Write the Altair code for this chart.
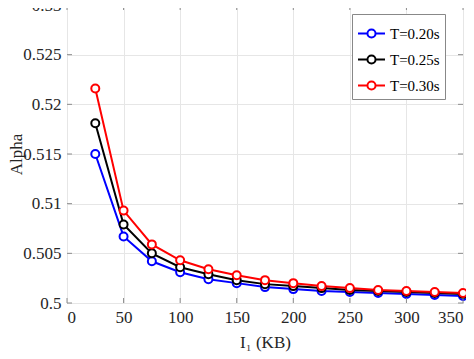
import altair as alt
import pandas as pd

x_vals = [25, 50, 75, 100, 125, 150, 175, 200, 225, 250, 275, 300, 325, 350]
t020 = [0.5150, 0.5067, 0.5042, 0.5031, 0.5024, 0.5020, 0.5016, 0.5014, 0.5012, 0.5011, 0.5010, 0.5009, 0.5008, 0.5007]
t025 = [0.5181, 0.5079, 0.5050, 0.5036, 0.5029, 0.5023, 0.5019, 0.5017, 0.5015, 0.5013, 0.5012, 0.5011, 0.5010, 0.5009]
t030 = [0.5216, 0.5093, 0.5059, 0.5043, 0.5034, 0.5028, 0.5023, 0.5020, 0.5017, 0.5015, 0.5013, 0.5012, 0.5011, 0.5010]
series_names = ["T=0.20s", "T=0.25s", "T=0.30s"]
series_colors = ["#0000ff", "#000000", "#ff0000"]
x_ticks = [0, 50, 100, 150, 200, 250, 300, 350]
y_ticks = [0.5, 0.505, 0.51, 0.515, 0.52, 0.525, 0.53]

rows = []
for name, vals in zip(series_names, [t020, t025, t030]):
    for xv, yv in zip(x_vals, vals):
        rows.append({"x": xv, "y": yv, "series": name})
df = pd.DataFrame(rows)
xt_df = pd.DataFrame({"x": x_ticks})
yt_df = pd.DataFrame({"y": y_ticks})

FONT = "Liberation Serif, Times New Roman, serif"
FRAME = "#8c8c8c"
W, H, TK = 396, 298, 5
legend_path = ("M-1,0H-0.3 M0.3,0H1 M-0.3,0A0.3,0.3 0 1,1 0.3,0A0.3,0.3 0 1,1 -0.3,0")

stroke_enc = alt.Stroke(
    "series:N",
    scale=alt.Scale(domain=series_names, range=series_colors),
    legend=alt.Legend(
        title=None,
        orient="none",
        legendX=285,
        legendY=9,
        symbolType=legend_path,
        symbolSize=729,
        symbolStrokeWidth=2,
        symbolFillColor="white",
        symbolOpacity=1,
        labelFont=FONT,
        labelFontSize=15,
        labelColor="black",
        fillColor="white",
        strokeColor="#888888",
        padding=5,
        rowPadding=3,
        labelOffset=4,
    ),
)

axis_style = dict(
    labelFont=FONT, labelFontSize=17, labelColor="#262626",
    titleFont=FONT, titleFontSize=17, titleColor="#262626", titleFontWeight="normal",
    grid=True, gridColor="#e6e6e6", gridWidth=1,
    domain=False, ticks=False, labelPadding=6,
)

x_scale = alt.Scale(domain=[0, 350], nice=False)
y_scale = alt.Scale(domain=[0.5, 0.53], nice=False, zero=False)

x_enc = alt.X(
    "x:Q", scale=x_scale,
    axis=alt.Axis(values=x_ticks, title="I\u2081 (KB)", titlePadding=9, **axis_style),
)
y_enc = alt.Y(
    "y:Q", scale=y_scale,
    axis=alt.Axis(values=y_ticks, title="Alpha", format="~g", titleX=-59, titleY=149, titleAngle=270,
                  titleBaseline="top", titleAlign="center", **axis_style),
)

base = alt.Chart(df)
lines = base.mark_line(strokeWidth=2).encode(x=x_enc, y=y_enc, stroke=stroke_enc)
points = base.mark_point(shape="circle", filled=True, fill="white", size=64, strokeWidth=2,
                         opacity=1, fillOpacity=1, strokeOpacity=1).encode(
    x="x:Q", y="y:Q", stroke=alt.Stroke("series:N", legend=None)
)

tick_mark = dict(color=FRAME, strokeWidth=1)
xb = alt.Chart(xt_df).mark_rule(**tick_mark).encode(x="x:Q", y=alt.value(H), y2=alt.value(H - TK))
xt = alt.Chart(xt_df).mark_rule(**tick_mark).encode(x="x:Q", y=alt.value(0), y2=alt.value(TK))
yl = alt.Chart(yt_df).mark_rule(**tick_mark).encode(y="y:Q", x=alt.value(0), x2=alt.value(TK))
yr = alt.Chart(yt_df).mark_rule(**tick_mark).encode(y="y:Q", x=alt.value(W), x2=alt.value(W - TK))

chart = (
    alt.layer(lines, points, xb, xt, yl, yr)
    .properties(width=W, height=H, padding={"left": 59, "top": -3, "right": 3, "bottom": 56},
                autosize=alt.AutoSizeParams(type="none"))
    .configure(font=FONT)
    .configure_view(stroke=FRAME, strokeWidth=1)
)

chart.save("out.html", embed_options={"renderer": "svg", "actions": False})
